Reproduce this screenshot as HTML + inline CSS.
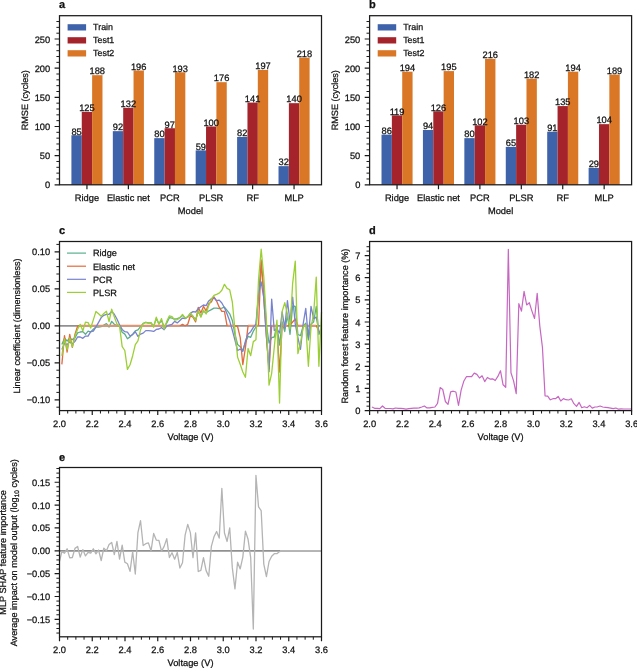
<!DOCTYPE html>
<html lang="en"><head><meta charset="utf-8"><title>Figure</title>
<style>
html,body{margin:0;padding:0;background:#fff}
svg{display:block}
svg text{font-family:"Liberation Sans",sans-serif;font-size:9.3px;fill:#111;stroke:#111;stroke-width:0.25px;text-rendering:geometricPrecision}
</style></head><body>
<svg width="637" height="668" viewBox="0 0 637 668">
<rect width="637" height="668" fill="#fff"/>
<rect x="71.41" y="135.24" width="10.36" height="49.56" fill="#3f63ab"/>
<rect x="81.76" y="111.91" width="10.36" height="72.89" fill="#a5242b"/>
<rect x="92.12" y="75.18" width="10.36" height="109.62" fill="#da7726"/>
<text x="76.59" y="134.54" text-anchor="middle">85</text>
<text x="86.94" y="111.21" text-anchor="middle">125</text>
<text x="97.3" y="74.48" text-anchor="middle">188</text>
<rect x="112.83" y="131.15" width="10.36" height="53.65" fill="#3f63ab"/>
<rect x="123.19" y="107.83" width="10.36" height="76.97" fill="#a5242b"/>
<rect x="133.54" y="70.51" width="10.36" height="114.29" fill="#da7726"/>
<text x="118.01" y="130.45" text-anchor="middle">92</text>
<text x="128.37" y="107.13" text-anchor="middle">132</text>
<text x="138.72" y="69.81" text-anchor="middle">196</text>
<rect x="154.25" y="138.15" width="10.36" height="46.65" fill="#3f63ab"/>
<rect x="164.61" y="128.24" width="10.36" height="56.56" fill="#a5242b"/>
<rect x="174.97" y="72.26" width="10.36" height="112.54" fill="#da7726"/>
<text x="159.43" y="137.45" text-anchor="middle">80</text>
<text x="169.79" y="127.54" text-anchor="middle">97</text>
<text x="180.14" y="71.56" text-anchor="middle">193</text>
<rect x="195.68" y="150.4" width="10.36" height="34.4" fill="#3f63ab"/>
<rect x="206.03" y="126.49" width="10.36" height="58.31" fill="#a5242b"/>
<rect x="216.39" y="82.17" width="10.36" height="102.63" fill="#da7726"/>
<text x="200.86" y="149.7" text-anchor="middle">59</text>
<text x="211.21" y="125.79" text-anchor="middle">100</text>
<text x="221.57" y="81.47" text-anchor="middle">176</text>
<rect x="237.1" y="136.99" width="10.36" height="47.81" fill="#3f63ab"/>
<rect x="247.46" y="102.58" width="10.36" height="82.22" fill="#a5242b"/>
<rect x="257.81" y="69.93" width="10.36" height="114.87" fill="#da7726"/>
<text x="242.28" y="136.29" text-anchor="middle">82</text>
<text x="252.63" y="101.88" text-anchor="middle">141</text>
<text x="262.99" y="69.23" text-anchor="middle">197</text>
<rect x="278.52" y="166.14" width="10.36" height="18.66" fill="#3f63ab"/>
<rect x="288.88" y="103.17" width="10.36" height="81.63" fill="#a5242b"/>
<rect x="299.24" y="57.68" width="10.36" height="127.12" fill="#da7726"/>
<text x="283.7" y="165.44" text-anchor="middle">32</text>
<text x="294.06" y="102.47" text-anchor="middle">140</text>
<text x="304.41" y="56.98" text-anchor="middle">218</text>
<rect x="59.5" y="15.7" width="262" height="169.1" fill="none" stroke="#1a1a1a" stroke-width="1.25"/>
<path d="M56.4 178.97H59.5M56.4 173.14H59.5M56.4 167.31H59.5M56.4 161.48H59.5M56.4 149.81H59.5M56.4 143.98H59.5M56.4 138.15H59.5M56.4 132.32H59.5M56.4 120.66H59.5M56.4 114.83H59.5M56.4 109H59.5M56.4 103.17H59.5M56.4 91.5H59.5M56.4 85.67H59.5M56.4 79.84H59.5M56.4 74.01H59.5M56.4 62.35H59.5M56.4 56.52H59.5M56.4 50.69H59.5M56.4 44.86H59.5M56.4 33.19H59.5M56.4 27.36H59.5M56.4 21.53H59.5" stroke="#1a1a1a" stroke-width="1.0" fill="none"/>
<path d="M54.6 184.8H59.5M54.6 155.64H59.5M54.6 126.49H59.5M54.6 97.33H59.5M54.6 68.18H59.5M54.6 39.02H59.5" stroke="#1a1a1a" stroke-width="1.2" fill="none"/>
<text x="50.2" y="188.3" text-anchor="end">0</text>
<text x="50.2" y="159.14" text-anchor="end">50</text>
<text x="50.2" y="129.99" text-anchor="end">100</text>
<text x="50.2" y="100.83" text-anchor="end">150</text>
<text x="50.2" y="71.68" text-anchor="end">200</text>
<text x="50.2" y="42.52" text-anchor="end">250</text>
<path d="M86.94 184.8V189.3M128.37 184.8V189.3M169.79 184.8V189.3M211.21 184.8V189.3M252.63 184.8V189.3M294.06 184.8V189.3" stroke="#1a1a1a" stroke-width="1.2" fill="none"/>
<text x="86.94" y="200.8" text-anchor="middle">Ridge</text>
<text x="128.37" y="200.8" text-anchor="middle">Elastic net</text>
<text x="169.79" y="200.8" text-anchor="middle">PCR</text>
<text x="211.21" y="200.8" text-anchor="middle">PLSR</text>
<text x="252.63" y="200.8" text-anchor="middle">RF</text>
<text x="294.06" y="200.8" text-anchor="middle">MLP</text>
<text x="190.5" y="213.8" text-anchor="middle">Model</text>
<text transform="translate(28 100.25) rotate(-90)" text-anchor="middle" style="font-size:9.12px">RMSE (cycles)</text>
<text x="59" y="7.7" style="font-weight:bold;font-size:11px">a</text>
<rect x="67.6" y="24.2" width="18.5" height="6.3" fill="#3f63ab"/>
<text x="93.1" y="30.4" style="font-size:8.9px">Train</text>
<rect x="67.6" y="37.2" width="18.5" height="6.3" fill="#a5242b"/>
<text x="93.1" y="43.4" style="font-size:8.9px">Test1</text>
<rect x="67.6" y="50.2" width="18.5" height="6.3" fill="#da7726"/>
<text x="93.1" y="56.4" style="font-size:8.9px">Test2</text>
<rect x="381.51" y="134.65" width="10.36" height="50.15" fill="#3f63ab"/>
<rect x="391.86" y="115.41" width="10.36" height="69.39" fill="#a5242b"/>
<rect x="402.22" y="71.68" width="10.36" height="113.12" fill="#da7726"/>
<text x="386.69" y="133.95" text-anchor="middle">86</text>
<text x="397.04" y="114.71" text-anchor="middle">119</text>
<text x="407.4" y="70.98" text-anchor="middle">194</text>
<rect x="422.93" y="129.99" width="10.36" height="54.81" fill="#3f63ab"/>
<rect x="433.29" y="111.33" width="10.36" height="73.47" fill="#a5242b"/>
<rect x="443.64" y="71.09" width="10.36" height="113.71" fill="#da7726"/>
<text x="428.11" y="129.29" text-anchor="middle">94</text>
<text x="438.47" y="110.63" text-anchor="middle">126</text>
<text x="448.82" y="70.39" text-anchor="middle">195</text>
<rect x="464.35" y="138.15" width="10.36" height="46.65" fill="#3f63ab"/>
<rect x="474.71" y="125.32" width="10.36" height="59.48" fill="#a5242b"/>
<rect x="485.07" y="58.85" width="10.36" height="125.95" fill="#da7726"/>
<text x="469.53" y="137.45" text-anchor="middle">80</text>
<text x="479.89" y="124.62" text-anchor="middle">102</text>
<text x="490.24" y="58.15" text-anchor="middle">216</text>
<rect x="505.78" y="146.9" width="10.36" height="37.9" fill="#3f63ab"/>
<rect x="516.13" y="124.74" width="10.36" height="60.06" fill="#a5242b"/>
<rect x="526.49" y="78.68" width="10.36" height="106.12" fill="#da7726"/>
<text x="510.96" y="146.2" text-anchor="middle">65</text>
<text x="521.31" y="124.04" text-anchor="middle">103</text>
<text x="531.67" y="77.98" text-anchor="middle">182</text>
<rect x="547.2" y="131.74" width="10.36" height="53.06" fill="#3f63ab"/>
<rect x="557.56" y="106.08" width="10.36" height="78.72" fill="#a5242b"/>
<rect x="567.91" y="71.68" width="10.36" height="113.12" fill="#da7726"/>
<text x="552.38" y="131.04" text-anchor="middle">91</text>
<text x="562.73" y="105.38" text-anchor="middle">135</text>
<text x="573.09" y="70.98" text-anchor="middle">194</text>
<rect x="588.62" y="167.89" width="10.36" height="16.91" fill="#3f63ab"/>
<rect x="598.98" y="124.16" width="10.36" height="60.64" fill="#a5242b"/>
<rect x="609.34" y="74.59" width="10.36" height="110.21" fill="#da7726"/>
<text x="593.8" y="167.19" text-anchor="middle">29</text>
<text x="604.16" y="123.46" text-anchor="middle">104</text>
<text x="614.51" y="73.89" text-anchor="middle">189</text>
<rect x="369.6" y="15.7" width="262" height="169.1" fill="none" stroke="#1a1a1a" stroke-width="1.25"/>
<path d="M366.5 178.97H369.6M366.5 173.14H369.6M366.5 167.31H369.6M366.5 161.48H369.6M366.5 149.81H369.6M366.5 143.98H369.6M366.5 138.15H369.6M366.5 132.32H369.6M366.5 120.66H369.6M366.5 114.83H369.6M366.5 109H369.6M366.5 103.17H369.6M366.5 91.5H369.6M366.5 85.67H369.6M366.5 79.84H369.6M366.5 74.01H369.6M366.5 62.35H369.6M366.5 56.52H369.6M366.5 50.69H369.6M366.5 44.86H369.6M366.5 33.19H369.6M366.5 27.36H369.6M366.5 21.53H369.6" stroke="#1a1a1a" stroke-width="1.0" fill="none"/>
<path d="M364.7 184.8H369.6M364.7 155.64H369.6M364.7 126.49H369.6M364.7 97.33H369.6M364.7 68.18H369.6M364.7 39.02H369.6" stroke="#1a1a1a" stroke-width="1.2" fill="none"/>
<text x="360.3" y="188.3" text-anchor="end">0</text>
<text x="360.3" y="159.14" text-anchor="end">50</text>
<text x="360.3" y="129.99" text-anchor="end">100</text>
<text x="360.3" y="100.83" text-anchor="end">150</text>
<text x="360.3" y="71.68" text-anchor="end">200</text>
<text x="360.3" y="42.52" text-anchor="end">250</text>
<path d="M397.04 184.8V189.3M438.47 184.8V189.3M479.89 184.8V189.3M521.31 184.8V189.3M562.73 184.8V189.3M604.16 184.8V189.3" stroke="#1a1a1a" stroke-width="1.2" fill="none"/>
<text x="397.04" y="200.8" text-anchor="middle">Ridge</text>
<text x="438.47" y="200.8" text-anchor="middle">Elastic net</text>
<text x="479.89" y="200.8" text-anchor="middle">PCR</text>
<text x="521.31" y="200.8" text-anchor="middle">PLSR</text>
<text x="562.73" y="200.8" text-anchor="middle">RF</text>
<text x="604.16" y="200.8" text-anchor="middle">MLP</text>
<text x="500.6" y="213.8" text-anchor="middle">Model</text>
<text transform="translate(338.1 100.25) rotate(-90)" text-anchor="middle" style="font-size:9.12px">RMSE (cycles)</text>
<text x="369.1" y="7.7" style="font-weight:bold;font-size:11px">b</text>
<rect x="377.7" y="24.2" width="18.5" height="6.3" fill="#3f63ab"/>
<text x="403.2" y="30.4" style="font-size:8.9px">Train</text>
<rect x="377.7" y="37.2" width="18.5" height="6.3" fill="#a5242b"/>
<text x="403.2" y="43.4" style="font-size:8.9px">Test1</text>
<rect x="377.7" y="50.2" width="18.5" height="6.3" fill="#da7726"/>
<text x="403.2" y="56.4" style="font-size:8.9px">Test2</text>
<path d="M59.5 325.8H321.5" stroke="#909090" stroke-width="1.8"/>
<path d="M61.86 344.6L64.49 338.3L67.11 341L69.73 338.3L72.35 339.6L74.98 337.9L77.6 332.9L80.22 332L82.84 331.6L85.47 334.3L88.09 331.1L90.71 332L93.33 329.3L95.96 326.9L98.58 327L101.2 326.6L103.82 325L106.45 323.7L109.07 327L111.69 321.4L114.31 324.2L116.94 325.6L119.56 326.1L122.18 332.2L124.81 334.1L127.43 338.8L130.05 336.9L132.67 334.1L135.3 330.8L137.92 329.8L140.54 326.6L143.16 323.3L145.79 322.3L148.41 322.8L151.03 323L153.65 326.1L156.28 318.6L158.9 323.8L161.52 320.5L164.14 327.1L166.77 322.9L169.39 317.7L172.01 318.1L174.63 319.1L177.26 318.6L179.88 317.7L182.5 315.3L185.12 318.1L187.75 317.2L190.37 313.9L192.99 316.3L195.62 319.6L198.24 311.6L200.86 316.3L203.48 311.1L206.11 312.7L208.73 311L211.35 309.6L213.97 308.1L216.6 308.1L219.22 308.6L221.84 308.1L224.46 307.2L227.09 310.4L229.71 313.8L232.33 320.5L234.95 334.5L237.58 344.4L240.2 346.7L242.82 350.5L245.44 342.5L248.07 336.4L250.69 337.3L253.31 331.2L255.94 327L258.56 296L261.18 262L263.8 290L266.43 325L269.05 343L271.67 337.7L274.29 337L276.92 325L279.54 345L282.16 322L284.78 331.5L287.41 315L290.03 334.3L292.65 306L295.27 306.3L297.9 334.5L300.52 335.6L303.14 326.1L305.76 323.3L308.39 340L311.01 324L313.63 322L316.25 306.5L318.88 334.4L321.5 330" stroke="#5aae8c" stroke-width="1.3" fill="none" stroke-linejoin="round"/>
<path d="M80.22 325.8H82.84M82.84 325.8H85.47M85.47 325.8H88.09M88.09 325.8H90.71M90.71 325.8H93.33M93.33 325.8H95.96M95.96 325.8H98.58M98.58 325.8H101.2M101.2 325.8H103.82M103.82 325.8H106.45M106.45 325.8H109.07M109.07 325.8H111.69M111.69 325.8H114.31M114.31 325.8H116.94M116.94 325.8H119.56M119.56 325.8H122.18M122.18 325.8H124.81M124.81 325.8H127.43M127.43 325.8H130.05M130.05 325.8H132.67M132.67 325.8H135.3M135.3 325.8H137.92M137.92 325.8H140.54M140.54 325.8H143.16M143.16 325.8H145.79M145.79 325.8H148.41M148.41 325.8H151.03M151.03 325.8H153.65M153.65 325.8H156.28M156.28 325.8H158.9M158.9 325.8H161.52M161.52 325.8H164.14M164.14 325.8H166.77M166.77 325.8H169.39M169.39 325.8H172.01M172.01 325.8H174.63M174.63 325.8H177.26M177.26 325.8H179.88M227.09 325.8H229.71M229.71 325.8H232.33M232.33 325.8H234.95M248.07 325.8H250.69M250.69 325.8H253.31M253.31 325.8H255.94M255.94 325.8H258.56M271.67 325.8H274.29M274.29 325.8H276.92M282.16 325.8H284.78M284.78 325.8H287.41M297.9 325.8H300.52M300.52 325.8H303.14M303.14 325.8H305.76M305.76 325.8H308.39M308.39 325.8H311.01M311.01 325.8H313.63M313.63 325.8H316.25" stroke="#df9473" stroke-width="1.9" fill="none"/>
<path d="M61.86 364.4L64.49 335.6L67.11 352.2L69.73 334.3L72.35 347.3L74.98 334.3L77.6 326.2L80.22 325.8M179.88 325.8L182.5 324.3L185.12 325.8L187.75 324.3L190.37 315.8L192.99 317.2L195.62 321.9L198.24 307.3L200.86 313L203.48 306.4L206.11 310.8L208.73 303.7L211.35 302L213.97 296.8L216.6 301.1L219.22 307.2L221.84 311.4L224.46 311.4L227.09 325.8M234.95 325.8L237.58 326.5L240.2 337.3L242.82 364.6L245.44 347.7L248.07 325.8M258.56 325.8L261.18 259.9L263.8 298.5L266.43 336.5L269.05 369L271.67 325.8M276.92 325.8L279.54 372L282.16 325.8M287.41 325.8L290.03 325L292.65 322L295.27 319L297.9 325.8M316.25 325.8L318.88 331.3L321.5 332.9" stroke="#e26a3c" stroke-width="1.3" fill="none" stroke-linejoin="round"/>
<path d="M61.86 349.5L64.49 343.2L67.11 344.6L69.73 341.9L72.35 344.1L74.98 341.4L77.6 337L80.22 337L82.84 338.3L85.47 336.1L88.09 336.1L90.71 331.6L93.33 331.1L95.96 326.8L98.58 322.3L101.2 317.6L103.82 315.3L106.45 314.3L109.07 314.3L111.69 311.5L114.31 314.3L116.94 319L119.56 324.7L122.18 329.4L124.81 331.7L127.43 332.2L130.05 336L132.67 334.6L135.3 331.7L137.92 336.4L140.54 334.1L143.16 333.1L145.79 330.6L148.41 330.6L151.03 330.8L153.65 331.4L156.28 329.4L158.9 329L161.52 327.6L164.14 329.7L166.77 326.2L169.39 325.2L172.01 324.3L174.63 321.4L177.26 322.9L179.88 320.5L182.5 318.1L185.12 318.6L187.75 316.7L190.37 313.4L192.99 311.6L195.62 312L198.24 308.7L200.86 306.8L203.48 305L206.11 305.6L208.73 300.9L211.35 298.7L213.97 297.8L216.6 300.6L219.22 300.1L221.84 303L224.46 307.7L227.09 314L229.71 321.1L232.33 330.3L234.95 340.1L237.58 350.5L240.2 349.1L242.82 351.4L245.44 341.1L248.07 334L250.69 331.7L253.31 327.4L255.94 324.1L258.56 293.5L261.18 282L263.8 297.9L266.43 336.8L269.05 371.7L271.67 299.1L274.29 330.5L276.92 329L279.54 333L282.16 312L284.78 327.8L287.41 300.7L290.03 321.7L292.65 297.1L295.27 324.1L297.9 337.6L300.52 349.3L303.14 324.1L305.76 308.3L308.39 338L311.01 306.3L313.63 318.6L316.25 317L318.88 331.3L321.5 334.4" stroke="#7883cf" stroke-width="1.3" fill="none" stroke-linejoin="round"/>
<path d="M61.86 355.8L64.49 338.8L67.11 349.5L69.73 337.9L72.35 346.8L74.98 336.1L77.6 329.3L80.22 324.4L82.84 330.7L85.47 322.1L88.09 322.6L90.71 328L93.33 319.9L95.96 311.4L98.58 313.8L101.2 316.2L103.82 313.5L106.45 311.3L109.07 321.7L111.69 309.1L114.31 316.8L116.94 324.1L119.56 326.1L122.18 346.6L124.81 350.5L127.43 369.4L130.05 364.7L132.67 355.7L135.3 344.6L137.92 340.8L140.54 329.8L143.16 323.7L145.79 322.3L148.41 323.3L151.03 322.6L153.65 327.3L156.28 317.2L158.9 324.3L161.52 318.6L164.14 329L166.77 321.4L169.39 315.8L172.01 316.7L174.63 320L177.26 319.6L179.88 317.7L182.5 314.4L185.12 318.1L187.75 317.2L190.37 313L192.99 316.3L195.62 320.5L198.24 310.6L200.86 317.2L203.48 310.1L206.11 314L208.73 305.5L211.35 299.2L213.97 295.4L216.6 294.3L219.22 293.1L221.84 290.3L224.46 284.3L227.09 288.4L229.71 289.8L232.33 302L234.95 330L237.58 357.1L240.2 364.3L242.82 372L245.44 377.3L248.07 348.5L250.69 355.7L253.31 341.6L255.94 339.7L258.56 279.4L261.18 249.2L263.8 277L266.43 321L269.05 385.2L271.67 373.3L274.29 347.1L276.92 320.2L279.54 403L282.16 311.4L284.78 302.7L287.41 314L290.03 328.9L292.65 283.3L295.27 261.2L297.9 353.7L300.52 343L303.14 327.3L305.76 325L308.39 366.3L311.01 327.3L313.63 313.8L316.25 277.1L318.88 366.3L321.5 312" stroke="#9ccf35" stroke-width="1.3" fill="none" stroke-linejoin="round"/>
<rect x="59.5" y="241.5" width="262" height="169.1" fill="none" stroke="#1a1a1a" stroke-width="1.25"/>
<path d="M56.4 407.2H59.5M56.4 392.4H59.5M56.4 385H59.5M56.4 377.6H59.5M56.4 370.2H59.5M56.4 355.4H59.5M56.4 348H59.5M56.4 340.6H59.5M56.4 333.2H59.5M56.4 318.4H59.5M56.4 311H59.5M56.4 303.6H59.5M56.4 296.2H59.5M56.4 281.4H59.5M56.4 274H59.5M56.4 266.6H59.5M56.4 259.2H59.5M56.4 244.4H59.5" stroke="#1a1a1a" stroke-width="1.0" fill="none"/>
<path d="M54.6 251.8H59.5M54.6 288.8H59.5M54.6 325.8H59.5M54.6 362.8H59.5M54.6 399.8H59.5" stroke="#1a1a1a" stroke-width="1.2" fill="none"/>
<text x="50.2" y="255.3" text-anchor="end">0.10</text>
<text x="50.2" y="292.3" text-anchor="end">0.05</text>
<text x="50.2" y="329.3" text-anchor="end">0.00</text>
<text x="50.2" y="366.3" text-anchor="end">−0.05</text>
<text x="50.2" y="403.3" text-anchor="end">−0.10</text>
<path d="M67.69 410.6V413.5M75.88 410.6V413.5M84.06 410.6V413.5M100.44 410.6V413.5M108.62 410.6V413.5M116.81 410.6V413.5M133.19 410.6V413.5M141.38 410.6V413.5M149.56 410.6V413.5M165.94 410.6V413.5M174.12 410.6V413.5M182.31 410.6V413.5M198.69 410.6V413.5M206.88 410.6V413.5M215.06 410.6V413.5M231.44 410.6V413.5M239.62 410.6V413.5M247.81 410.6V413.5M264.19 410.6V413.5M272.38 410.6V413.5M280.56 410.6V413.5M296.94 410.6V413.5M305.12 410.6V413.5M313.31 410.6V413.5" stroke="#1a1a1a" stroke-width="1.0" fill="none"/>
<path d="M59.5 410.6V415.1M92.25 410.6V415.1M125 410.6V415.1M157.75 410.6V415.1M190.5 410.6V415.1M223.25 410.6V415.1M256 410.6V415.1M288.75 410.6V415.1M321.5 410.6V415.1" stroke="#1a1a1a" stroke-width="1.2" fill="none"/>
<text x="59.5" y="426.6" text-anchor="middle">2.0</text>
<text x="92.25" y="426.6" text-anchor="middle">2.2</text>
<text x="125" y="426.6" text-anchor="middle">2.4</text>
<text x="157.75" y="426.6" text-anchor="middle">2.6</text>
<text x="190.5" y="426.6" text-anchor="middle">2.8</text>
<text x="223.25" y="426.6" text-anchor="middle">3.0</text>
<text x="256" y="426.6" text-anchor="middle">3.2</text>
<text x="288.75" y="426.6" text-anchor="middle">3.4</text>
<text x="321.5" y="426.6" text-anchor="middle">3.6</text>
<text x="190.5" y="440.1" text-anchor="middle">Voltage (V)</text>
<text transform="translate(20.2 325.95) rotate(-90)" text-anchor="middle" style="font-size:9.12px">Linear coefficient (dimensionless)</text>
<text x="59" y="234" style="font-weight:bold;font-size:11px">c</text>
<path d="M67 253.1h19" stroke="#5aae8c" stroke-width="1.2"/>
<text x="93" y="256.4" style="font-size:9.15px">Ridge</text>
<path d="M67 266.2h19" stroke="#e26a3c" stroke-width="1.2"/>
<text x="93" y="269.5" style="font-size:9.15px">Elastic net</text>
<path d="M67 279.3h19" stroke="#7883cf" stroke-width="1.2"/>
<text x="93" y="282.6" style="font-size:9.15px">PCR</text>
<path d="M67 292.4h19" stroke="#9ccf35" stroke-width="1.2"/>
<text x="93" y="295.7" style="font-size:9.15px">PLSR</text>
<path d="M371.96 407L374.59 408.3L377.21 408.3L379.83 408.7L382.45 406L385.08 408.3L387.7 408.5L390.32 408.5L392.94 408.9L395.57 408L398.19 408.4L400.81 408.4L403.43 408.7L406.06 409.2L408.68 408.7L411.3 408.4L413.92 408.2L416.55 408.2L419.17 407.9L421.79 407L424.41 406L427.04 407.9L429.66 407.9L432.28 407.4L434.91 407L437.53 403.3L440.15 387.6L442.77 389.5L445.4 401.5L448.02 404.4L450.64 391.8L453.26 391.2L455.89 392L458.51 405.5L461.13 390.1L463.75 381.3L466.38 376.7L469 376.7L471.62 376.7L474.24 373.1L476.87 374.4L479.49 378L482.11 375.8L484.73 381.6L487.36 377.5L489.98 379.1L492.6 378.8L495.22 380.5L497.85 376.4L500.47 370.7L503.09 384.8L505.72 387.3L508.34 249.3L510.96 372.8L513.58 380.9L516.21 393.7L518.83 303.7L521.45 311.1L524.07 291.3L526.7 305L529.32 302.7L531.94 311.1L534.56 318.5L537.19 293.3L539.81 326.1L542.43 347.2L545.05 395.8L547.68 396.2L550.3 399.8L552.92 398.7L555.54 398.7L558.17 396.4L560.79 401L563.41 398.6L566.04 399.7L568.66 400L571.28 398.8L573.9 403.7L576.53 406.4L579.15 402.4L581.77 407.7L584.39 406.8L587.02 407.7L589.64 405.4L592.26 408.1L594.88 407L597.51 406.8L600.13 406L602.75 407L605.37 407.3L608 407.6L610.62 408.1L613.24 408.6L615.86 408L618.49 409.2L621.11 408.9L623.73 409L626.35 409L628.98 409L631.6 409" stroke="#c667c2" stroke-width="1.2" fill="none" stroke-linejoin="round"/>
<rect x="369.6" y="241.5" width="262" height="169.1" fill="none" stroke="#1a1a1a" stroke-width="1.25"/>
<path d="M366.5 406.17H369.6M366.5 401.74H369.6M366.5 397.31H369.6M366.5 392.88H369.6M366.5 384.02H369.6M366.5 379.59H369.6M366.5 375.16H369.6M366.5 370.73H369.6M366.5 361.87H369.6M366.5 357.44H369.6M366.5 353.01H369.6M366.5 348.58H369.6M366.5 339.72H369.6M366.5 335.29H369.6M366.5 330.86H369.6M366.5 326.43H369.6M366.5 317.57H369.6M366.5 313.14H369.6M366.5 308.71H369.6M366.5 304.28H369.6M366.5 295.42H369.6M366.5 290.99H369.6M366.5 286.56H369.6M366.5 282.13H369.6M366.5 273.27H369.6M366.5 268.84H369.6M366.5 264.41H369.6M366.5 259.98H369.6M366.5 251.12H369.6M366.5 246.69H369.6" stroke="#1a1a1a" stroke-width="1.0" fill="none"/>
<path d="M364.7 410.6H369.6M364.7 388.45H369.6M364.7 366.3H369.6M364.7 344.15H369.6M364.7 322H369.6M364.7 299.85H369.6M364.7 277.7H369.6M364.7 255.55H369.6" stroke="#1a1a1a" stroke-width="1.2" fill="none"/>
<text x="360.3" y="414.1" text-anchor="end">0</text>
<text x="360.3" y="391.95" text-anchor="end">1</text>
<text x="360.3" y="369.8" text-anchor="end">2</text>
<text x="360.3" y="347.65" text-anchor="end">3</text>
<text x="360.3" y="325.5" text-anchor="end">4</text>
<text x="360.3" y="303.35" text-anchor="end">5</text>
<text x="360.3" y="281.2" text-anchor="end">6</text>
<text x="360.3" y="259.05" text-anchor="end">7</text>
<path d="M377.79 410.6V413.5M385.98 410.6V413.5M394.16 410.6V413.5M410.54 410.6V413.5M418.73 410.6V413.5M426.91 410.6V413.5M443.29 410.6V413.5M451.48 410.6V413.5M459.66 410.6V413.5M476.04 410.6V413.5M484.23 410.6V413.5M492.41 410.6V413.5M508.79 410.6V413.5M516.98 410.6V413.5M525.16 410.6V413.5M541.54 410.6V413.5M549.73 410.6V413.5M557.91 410.6V413.5M574.29 410.6V413.5M582.48 410.6V413.5M590.66 410.6V413.5M607.04 410.6V413.5M615.23 410.6V413.5M623.41 410.6V413.5" stroke="#1a1a1a" stroke-width="1.0" fill="none"/>
<path d="M369.6 410.6V415.1M402.35 410.6V415.1M435.1 410.6V415.1M467.85 410.6V415.1M500.6 410.6V415.1M533.35 410.6V415.1M566.1 410.6V415.1M598.85 410.6V415.1M631.6 410.6V415.1" stroke="#1a1a1a" stroke-width="1.2" fill="none"/>
<text x="369.6" y="426.6" text-anchor="middle">2.0</text>
<text x="402.35" y="426.6" text-anchor="middle">2.2</text>
<text x="435.1" y="426.6" text-anchor="middle">2.4</text>
<text x="467.85" y="426.6" text-anchor="middle">2.6</text>
<text x="500.6" y="426.6" text-anchor="middle">2.8</text>
<text x="533.35" y="426.6" text-anchor="middle">3.0</text>
<text x="566.1" y="426.6" text-anchor="middle">3.2</text>
<text x="598.85" y="426.6" text-anchor="middle">3.4</text>
<text x="631.6" y="426.6" text-anchor="middle">3.6</text>
<text x="500.6" y="440.1" text-anchor="middle">Voltage (V)</text>
<text transform="translate(347.6 326.05) rotate(-90)" text-anchor="middle" style="font-size:9.12px">Random forest feature importance (%)</text>
<text x="369.1" y="234" style="font-weight:bold;font-size:11px">d</text>
<path d="M59.5 550.8H321.5" stroke="#909090" stroke-width="1.8"/>
<path d="M59.5 561.4L61.86 551.6L64.49 553.2L67.11 548.8L69.73 557.9L72.35 557.5L74.98 548.4L77.6 546.5L80.22 557.1L82.84 549.6L85.47 555.9L88.09 552.4L90.71 553.2L93.33 548.8L95.96 553.9L98.58 550L101.2 560.5L103.82 548.1L106.45 550.8L109.07 544.5L111.69 542.4L114.31 554.5L116.94 541.4L119.56 559.2L122.18 545.1L124.81 562.1L127.43 563.7L130.05 571.3L132.67 551.7L135.3 574L137.92 532.6L140.54 520.7L143.16 545.5L145.79 543.7L148.41 542.9L151.03 550.8L153.65 533.5L156.28 540.1L158.9 540.4L161.52 551.2L164.14 546.4L166.77 538.6L169.39 557.5L172.01 552.7L174.63 559.2L177.26 552.4L179.88 568L182.5 562.7L185.12 535.1L187.75 524.4L190.37 532.6L192.99 557.7L195.62 532.9L198.24 571.5L200.86 570.3L203.48 557.7L206.11 570.6L208.73 576.2L211.35 546.3L213.97 536.8L216.6 531.5L219.22 538.1L221.84 488.4L224.46 533L227.09 541.5L229.71 527.9L232.33 567.9L234.95 588.9L237.58 562.2L240.2 568.9L242.82 557.1L245.44 531.1L248.07 539.3L250.69 557.7L253.31 629L255.94 475.3L258.56 506.9L261.18 510.7L263.8 564.1L266.43 576.6L269.05 561.5L271.67 556.2L274.29 553.7L276.92 553.7L279.54 551.6L282.16 551.1L284.78 550.9L287.41 550.9L290.03 550.9L292.65 550.9L295.27 550.9L297.9 550.9L300.52 550.9L303.14 550.9L305.76 550.9L308.39 550.9L311.01 550.9L313.63 550.9L316.25 550.9L318.88 550.9L321.5 550.9" stroke="#b4b4b4" stroke-width="1.3" fill="none" stroke-linejoin="round"/>
<path d="M280 550.8H321.5" stroke="#b6b6b6" stroke-width="1.7"/>
<rect x="59.5" y="467.5" width="262" height="169.3" fill="none" stroke="#1a1a1a" stroke-width="1.25"/>
<path d="M56.4 633.06H59.5M56.4 628.49H59.5M56.4 623.92H59.5M56.4 614.78H59.5M56.4 610.21H59.5M56.4 605.64H59.5M56.4 601.07H59.5M56.4 591.93H59.5M56.4 587.36H59.5M56.4 582.79H59.5M56.4 578.22H59.5M56.4 569.08H59.5M56.4 564.51H59.5M56.4 559.94H59.5M56.4 555.37H59.5M56.4 546.23H59.5M56.4 541.66H59.5M56.4 537.09H59.5M56.4 532.52H59.5M56.4 523.38H59.5M56.4 518.81H59.5M56.4 514.24H59.5M56.4 509.67H59.5M56.4 500.53H59.5M56.4 495.96H59.5M56.4 491.39H59.5M56.4 486.82H59.5M56.4 477.68H59.5M56.4 473.11H59.5M56.4 468.54H59.5" stroke="#1a1a1a" stroke-width="1.0" fill="none"/>
<path d="M54.6 482.25H59.5M54.6 505.1H59.5M54.6 527.95H59.5M54.6 550.8H59.5M54.6 573.65H59.5M54.6 596.5H59.5M54.6 619.35H59.5" stroke="#1a1a1a" stroke-width="1.2" fill="none"/>
<text x="50.2" y="485.75" text-anchor="end">0.15</text>
<text x="50.2" y="508.6" text-anchor="end">0.10</text>
<text x="50.2" y="531.45" text-anchor="end">0.05</text>
<text x="50.2" y="554.3" text-anchor="end">0.00</text>
<text x="50.2" y="577.15" text-anchor="end">−0.05</text>
<text x="50.2" y="600" text-anchor="end">−0.10</text>
<text x="50.2" y="622.85" text-anchor="end">−0.15</text>
<path d="M67.69 636.8V639.7M75.88 636.8V639.7M84.06 636.8V639.7M100.44 636.8V639.7M108.62 636.8V639.7M116.81 636.8V639.7M133.19 636.8V639.7M141.38 636.8V639.7M149.56 636.8V639.7M165.94 636.8V639.7M174.12 636.8V639.7M182.31 636.8V639.7M198.69 636.8V639.7M206.88 636.8V639.7M215.06 636.8V639.7M231.44 636.8V639.7M239.62 636.8V639.7M247.81 636.8V639.7M264.19 636.8V639.7M272.38 636.8V639.7M280.56 636.8V639.7M296.94 636.8V639.7M305.12 636.8V639.7M313.31 636.8V639.7" stroke="#1a1a1a" stroke-width="1.0" fill="none"/>
<path d="M59.5 636.8V641.3M92.25 636.8V641.3M125 636.8V641.3M157.75 636.8V641.3M190.5 636.8V641.3M223.25 636.8V641.3M256 636.8V641.3M288.75 636.8V641.3M321.5 636.8V641.3" stroke="#1a1a1a" stroke-width="1.2" fill="none"/>
<text x="59.5" y="652.8" text-anchor="middle">2.0</text>
<text x="92.25" y="652.8" text-anchor="middle">2.2</text>
<text x="125" y="652.8" text-anchor="middle">2.4</text>
<text x="157.75" y="652.8" text-anchor="middle">2.6</text>
<text x="190.5" y="652.8" text-anchor="middle">2.8</text>
<text x="223.25" y="652.8" text-anchor="middle">3.0</text>
<text x="256" y="652.8" text-anchor="middle">3.2</text>
<text x="288.75" y="652.8" text-anchor="middle">3.4</text>
<text x="321.5" y="652.8" text-anchor="middle">3.6</text>
<text x="190.5" y="666.3" text-anchor="middle">Voltage (V)</text>
<text transform="translate(5.9 552.45) rotate(-90)" text-anchor="middle" style="font-size:9.15px">MLP SHAP feature importance</text>
<text transform="translate(16.7 552.75) rotate(-90)" text-anchor="middle" style="font-size:9.15px">Average impact on model output (log<tspan font-size="6.5" dy="2">10</tspan><tspan dy="-2"> cycles)</tspan></text>
<text x="59" y="460.6" style="font-weight:bold;font-size:11px">e</text>
</svg>
</body></html>
